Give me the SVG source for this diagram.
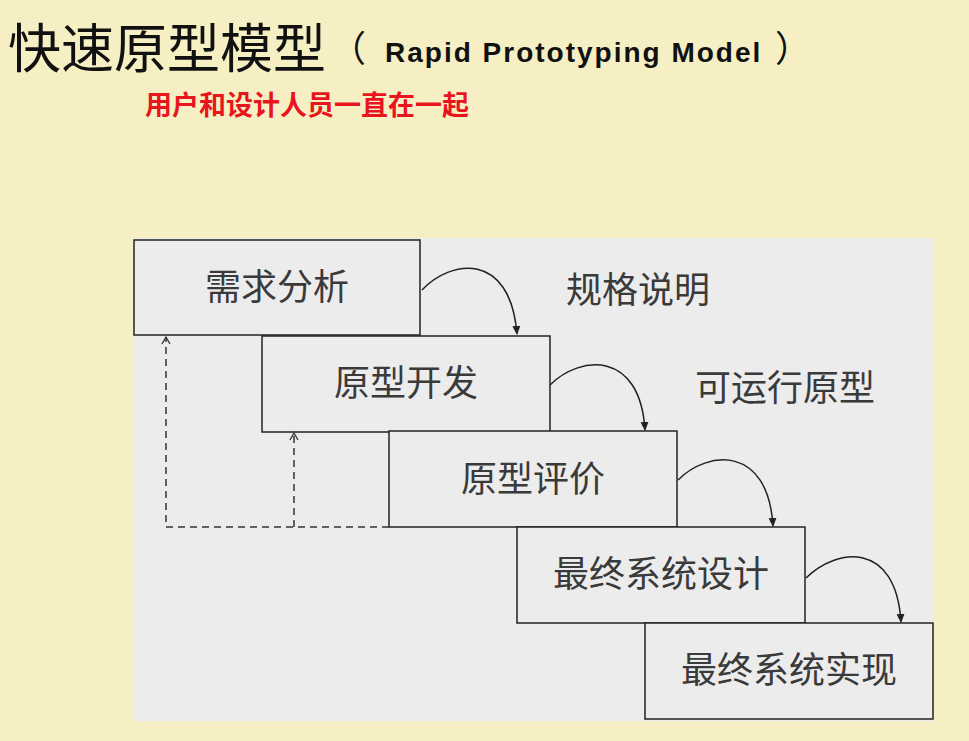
<svg xmlns="http://www.w3.org/2000/svg" width="969" height="741" viewBox="0 0 969 741">
<style>
.box{fill:#ececec;stroke:#222;stroke-width:1.5}
.t{font-family:"Liberation Sans","Noto Sans CJK SC",sans-serif;font-size:36px;fill:#3a3a3a;text-anchor:middle}
.c{fill:none;stroke:#222;stroke-width:1.5}
.d{fill:none;stroke:#333;stroke-width:1.5;stroke-dasharray:7,5}
</style>
<defs><marker id="a" markerWidth="10" markerHeight="10" refX="8" refY="5" orient="auto" markerUnits="userSpaceOnUse"><path d="M0,1 L9,5 L0,9 z" fill="#222"/></marker>
<marker id="o" markerWidth="10" markerHeight="10" refX="8" refY="5" orient="auto" markerUnits="userSpaceOnUse"><path d="M1,1 L8,5 L1,9" fill="none" stroke="#333" stroke-width="1.3"/></marker></defs>
<rect width="969" height="741" fill="#f5efc3"/>
<text x="8" y="68" font-family="'Noto Sans CJK SC',sans-serif" font-size="53" fill="#111">快速原型模型</text>
<text x="330" y="62" font-family="'Noto Sans CJK SC',sans-serif" font-size="36" fill="#111">（</text>
<text x="385" y="62" font-family="'Liberation Sans',sans-serif" font-size="28" font-weight="bold" letter-spacing="2" fill="#111">Rapid Prototyping Model</text>
<text x="775" y="62" font-family="'Noto Sans CJK SC',sans-serif" font-size="36" fill="#111">）</text>
<text x="145" y="115" font-family="'Noto Sans CJK SC',sans-serif" font-size="27" font-weight="bold" fill="#e8141e">用户和设计人员一直在一起</text>
<rect x="133" y="238" width="801" height="483" fill="#ececec"/>
<g id="n1"><rect class="box" x="134" y="240" width="286" height="95"/><text class="t" x="277" y="300">需求分析</text></g>
<g id="n2"><rect class="box" x="262" y="336" width="288" height="96"/><text class="t" x="406" y="396">原型开发</text></g>
<g id="n3"><rect class="box" x="389" y="431" width="288" height="96"/><text class="t" x="533" y="492">原型评价</text></g>
<g id="n4"><rect class="box" x="517" y="527" width="288" height="96"/><text class="t" x="661" y="587">最终系统设计</text></g>
<g id="n5"><rect class="box" x="645" y="623" width="288" height="96"/><text class="t" x="789" y="683">最终系统实现</text></g>
<text class="t" x="638" y="303" font-size="38">规格说明</text>
<text class="t" x="785" y="401" font-size="38">可运行原型</text>
<g id="connectors">
<path class="c" marker-end="url(#a)" d="M422,290 C450,260 510,250 517,334"/>
<path class="c" marker-end="url(#a)" d="M550,385 C580,355 640,350 645,430"/>
<path class="c" marker-end="url(#a)" d="M678,480 C708,450 768,445 773,526"/>
<path class="c" marker-end="url(#a)" d="M806,578 C836,548 896,540 901,622"/>
<path class="d" marker-end="url(#o)" d="M389,527 H166 V337"/>
<path class="d" marker-end="url(#o)" d="M294,527 V433"/>
</g>
</svg>
